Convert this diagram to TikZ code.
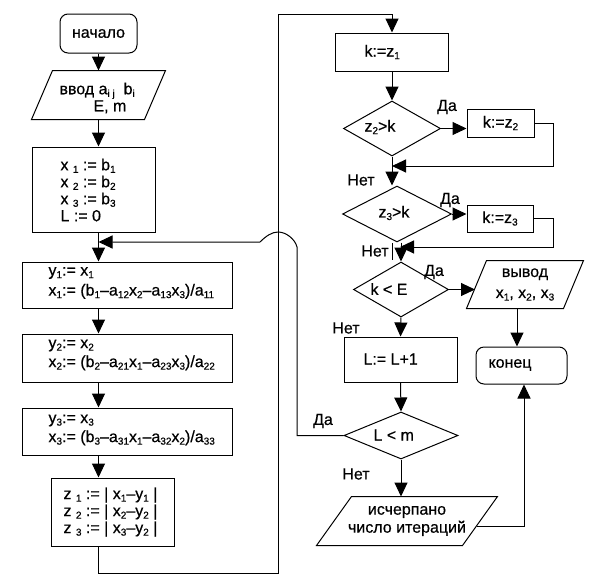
\documentclass[tikz,border=0pt]{standalone}
\usepackage{fontspec}
\setmainfont{Liberation Sans}[FakeBold=0.5]
\usetikzlibrary{arrows.meta,shapes.geometric,calc}
\newcommand{\sbs}[1]{\raisebox{-0.3ex}{\fontsize{10}{10}\selectfont #1}}
\begin{document}
\begin{tikzpicture}[x=1pt,y=-1pt, line width=1pt,
  every node/.style={font=\fontsize{16}{17}\selectfont, inner sep=0pt},
  box/.style={draw, rectangle},
  rbox/.style={draw, rectangle, rounded corners=8pt},
  dia/.style={draw, diamond},
  pbox/.style={rectangle},
  txt/.style={anchor=west, align=left},
  arr/.style={-{Triangle[length=14pt,width=13pt]}}]

\useasboundingbox (0,0) rectangle (594,584);

% ---------- left column ----------
\node[rbox, minimum width=77pt, minimum height=39pt] (start) at (98.5,33.5) {начало};

\node[pbox, minimum width=133pt, minimum height=48pt] (in) at (98.5,95) {};
\draw ($(in.north west)+(21,0)$) -- (in.north east) -- ($(in.south east)+(-21,0)$) -- (in.south west) -- cycle;
\node[txt] (intxt) at (59,98) {ввод a\sbs{i j}\ \ b\sbs{i}\\\hspace*{34pt}E, m};

\node[box, minimum width=123pt, minimum height=85pt] (init) at (93.5,189.5) {};
\node[txt] (initt) at (60,190) {x \sbs{1} := b\sbs{1}\\x \sbs{2} := b\sbs{2}\\x \sbs{3} := b\sbs{3}\\L := 0};

\coordinate (merge) at (98.5,242);

\node[box, minimum width=210pt, minimum height=46pt] (b1) at (127,285) {};
\node[txt, font=\fontsize{16}{20}\selectfont] (b1t) at (48,283)
  {y\sbs{1}:= x\sbs{1}\\x\sbs{1}:= (b\sbs{1}–a\sbs{12}x\sbs{2}–a\sbs{13}x\sbs{3})/a\sbs{11}};

\node[box, minimum width=210pt, minimum height=48pt] (b2) at (127,358) {};
\node[txt, font=\fontsize{16}{19}\selectfont] (b2t) at (48,355)
  {y\sbs{2}:= x\sbs{2}\\x\sbs{2}:= (b\sbs{2}–a\sbs{21}x\sbs{1}–a\sbs{23}x\sbs{3})/a\sbs{22}};

\node[box, minimum width=210pt, minimum height=47pt] (b3) at (127,431.5) {};
\node[txt, font=\fontsize{16}{19}\selectfont] (b3t) at (48,430)
  {y\sbs{3}:= x\sbs{3}\\x\sbs{3}:= (b\sbs{3}–a\sbs{31}x\sbs{1}–a\sbs{32}x\sbs{2})/a\sbs{33}};

\node[box, minimum width=123pt, minimum height=68pt] (bz) at (112.5,512) {};
\node[txt] (bzt) at (63,512)
  {z \sbs{1} := | x\sbs{1}–y\sbs{1} |\\z \sbs{2} := | x\sbs{2}–y\sbs{2} |\\z \sbs{3} := | x\sbs{3}–y\sbs{2} |};

% ---------- right column ----------
\node[box, minimum width=113pt, minimum height=38pt] (kz1) at (392,52) {};
\node[txt] (kz1t) at (364,52) {k:=z\sbs{1}};

\node[dia, minimum width=97pt, minimum height=55pt] (d1) at (392,128.5) {};
\node[txt] (d1t) at (364,127) {z\sbs{2}>k};

\node[box, minimum width=67pt, minimum height=28pt] (kz2) at (500.5,123) {k:=z\sbs{2}};

\node[dia, minimum width=109pt, minimum height=56pt] (d2) at (397,214) {};
\node[txt] (d2t) at (378,213) {z\sbs{3}>k};

\node[box, minimum width=66pt, minimum height=27pt] (kz3) at (500,218.5) {k:=z\sbs{3}};

\node[dia, minimum width=95pt, minimum height=55pt] (d3) at (401,289.5) {};
\node[txt] (d3t) at (370,289) {k < E};

\node[pbox, minimum width=116pt, minimum height=47pt, align=center,
      font=\fontsize{16}{21}\selectfont] (out) at (525,284.5) {вывод\\x\sbs{1}, x\sbs{2}, x\sbs{3}};
\draw ($(out.north west)+(20,0)$) -- (out.north east) -- ($(out.south east)+(-20,0)$) -- (out.south west) -- cycle;

\node[rbox, minimum width=91pt, minimum height=37pt] (end) at (521.5,365.5) {};
\node[txt] (endt) at (488,365) {конец};

\node[box, minimum width=113pt, minimum height=45pt] (L1) at (400.5,359.5) {};
\node[txt] (L1t) at (363,359) {L:= L+1};

\node[dia, minimum width=114pt, minimum height=47pt] (d4) at (401,435.5) {};
\node[txt] (d4t) at (373,435) {L < m};

\node[pbox, minimum width=180pt, minimum height=48pt, align=center,
      font=\fontsize{16}{18}\selectfont] (exh) at (407,521) {исчерпано\\число итераций};
\draw ($(exh.north west)+(35,0)$) -- (exh.north east) -- ($(exh.south east)+(-35,0)$) -- (exh.south west) -- cycle;

% ---------- labels ----------
\node (yes1) at (447,107) {Да};
\node (no1) at (361,180) {Нет};
\node (yes2) at (450,200) {Да};
\node (no2) at (375,251) {Нет};
\node (yes3) at (434,272) {Да};
\node (no3) at (346,328) {Нет};
\node (yes4) at (323,421) {Да};
\node (no4) at (356,474) {Нет};

% ---------- connectors ----------
\draw[arr] (start.south) -- (in.north);
\draw[arr] (in.south) -- (in.south |- init.north);
\draw (init.south -| merge) -- (merge);
\draw[arr] (merge) -- (merge |- b1.north);
\draw[arr] (b1.south -| merge) -- (b2.north -| merge);
\draw[arr] (b2.south -| merge) -- (b3.north -| merge);
\draw[arr] (b3.south -| merge) -- (bz.north -| merge);

\coordinate (c1) at (98.5,573);
\coordinate (c2) at (278,573);
\coordinate (c3) at (278,14);
\coordinate (c4) at (392,14);
\draw[arr] (bz.south -| merge) -- (c1) -- (c2) -- (c3) -- (c4) -- (kz1.north);

\draw[arr] (kz1.south) -- (d1.north);
\draw[arr] (d1.east) -- (d1.east -| kz2.west);
\coordinate (m1) at (392,166);
\coordinate (r1) at (553,123);
\draw[arr] (kz2.east) -- (r1) |- (m1);
\draw[arr] (d1.south) -- (d1.south |- d2.north);

\draw[arr] (d2.east) -- (d2.east -| kz3.west);
\coordinate (m2) at (400,247);
\coordinate (r2) at (553,218.5);
\draw[arr] (kz3.east) -- (r2) |- (m2);
\draw[arr] (d3.north |- d2.south) -- (d3.north);
\coordinate (t1) at (392,243);
\coordinate (t2) at (392,260);
\draw (t1) -- (t2);

\coordinate (outin) at (475,289.5);
\draw[arr] (d3.east) -- (outin);
\coordinate (oa) at (517,308);
\draw[arr] (oa) -- (oa |- end.north);
\draw[arr] (d3.south) -- (L1.north);
\draw[arr] (L1.south) -- (d4.north);
\draw[arr] (d4.south) -- (d4.south |- exh.north);

\coordinate (ea) at (477,526);
\coordinate (eb) at (524,526);
\draw[arr] (ea) -- (eb) -- (eb |- end.south);

\coordinate (lp) at (297,435.5);
\coordinate (hopR) at (297,247);
\coordinate (hopT) at (278,232);
\coordinate (hopL) at (260,242);
\draw[arr] (d4.west) -- (lp) -- (hopR) .. controls (295,239) and (286,232) .. (hopT)
  .. controls (272,232) and (266,236) .. (hopL) -- (merge);
\end{tikzpicture}
\end{document}
